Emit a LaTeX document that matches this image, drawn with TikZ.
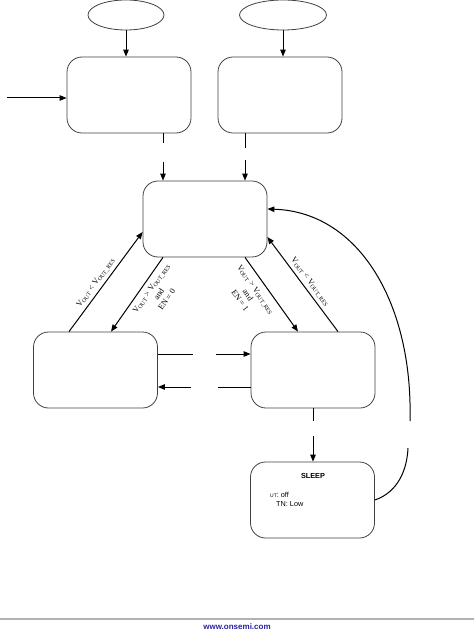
\documentclass[tikz,border=0pt]{standalone}
\usepackage{fontspec}
\setmainfont{Liberation Serif}
\newfontfamily\arialf{Liberation Sans}
\usetikzlibrary{arrows.meta,shapes.geometric}
\definecolor{onblue}{RGB}{35,35,165}
\newcommand\Vsub[1]{V\textsubscript{#1}}
\begin{document}
\begin{tikzpicture}[x=1pt,y=-1pt,
  box/.style={draw=black!75,line width=0.8pt,rounded corners=15pt,minimum width=124pt,minimum height=76pt,inner sep=0pt},
  oval/.style={draw=black!75,line width=0.8pt,ellipse,inner sep=0pt,minimum height=30pt},
  conn/.style={line width=1pt},
  arr/.style={conn,-{Triangle[length=7pt,width=5.5pt]}},
  lbl/.style={font=\fontsize{8.2}{9.6}\selectfont,align=center,inner sep=0pt},
  sans/.style={font=\arialf\fontsize{7.3}{8}\selectfont,inner sep=0pt}]
\useasboundingbox (0,0) rectangle (474,631);
% nodes
\node[oval,minimum width=76pt] (e1) at (126,15) {};
\node[oval,minimum width=87pt] (e2) at (283,15) {};
\node[box] (A) at (129,95) {};
\node[box] (B) at (280,95) {};
\node[box] (C) at (205,219) {};
\node[box] (D) at (95.5,370) {};
\node[box] (E) at (313,370) {};
\node[box] (F) at (312.5,500) {};
% top arrows
\draw[arr] (e1.south) -- (e1.south |- A.north);
\draw[arr] (e2.south) -- (e2.south |- B.north);
\coordinate (in) at (7,98);
\draw[arr] (in) -- (in -| A.west);
% A,B to C (broken)
\coordinate (a1) at (163,143);
\coordinate (a2) at (163,162);
\draw[conn] (a1 |- A.south) -- (a1);
\draw[arr] (a2) -- (a2 |- C.north);
\coordinate (b1) at (245,148);
\coordinate (b2) at (245,160);
\draw[conn] (b1 |- B.south) -- (b1);
\draw[arr] (b2) -- (b2 |- C.north);
% diagonals
\draw[arr] (69,0 |- D.north) -- (C.west |- 0,232);
\draw[arr] (163,0 |- C.south) -- (111,0 |- D.north);
\draw[arr] (245,0 |- C.south) -- (298,0 |- E.north);
\draw[arr] (338,0 |- E.north) -- (C.east |- 0,237);
% horizontals (broken)
\coordinate (h1) at (193,354);
\coordinate (h2) at (216,354);
\draw[conn] (D.east |- h1) -- (h1);
\draw[arr] (h2) -- (h2 -| E.west);
\coordinate (h3) at (218,387);
\coordinate (h4) at (191,387);
\draw[conn] (E.west |- h3) -- (h3);
\draw[arr] (h4) -- (h4 -| D.east);
% E to sleep (broken)
\coordinate (v1) at (313,421);
\coordinate (v2) at (313,436);
\draw[conn] (v1 |- E.south) -- (v1);
\draw[arr] (v2) -- (v2 |- F.north);
% return curve (broken)
\coordinate (c1) at (408,448);
\coordinate (c2) at (410,421);
\draw[conn] (F.east |- 0,500) .. controls (398,492) and (407,470) .. (c1);
\draw[arr] (c2) .. controls (413,305) and (360,212) .. (C.east |- 0,209);
% labels
\node[lbl,rotate=54] (l1) at (96,283) {\Vsub{OUT} < \Vsub{OUT\_RES}};
\node[lbl,rotate=55] (l2) at (159,294) {\Vsub{OUT} > \Vsub{OUT\_RES}\\and\\EN = 0};
\node[lbl,rotate=-55] (l3) at (248,295) {\Vsub{OUT} > \Vsub{OUT\_RES}\\and\\EN = 1};
\node[lbl,rotate=-53] (l4) at (310,282) {\Vsub{OUT} < \Vsub{OUT\_RES}};
% sleep text
\node[sans,font=\arialf\bfseries\fontsize{7.3}{8}\selectfont] (sl) at (313,476) {SLEEP};
\node[sans,anchor=base west] (ut) at (270,497) {{\fontsize{5}{5}\selectfont UT}: off};
\node[sans,anchor=base west] (tn) at (276,506) {TN: Low};
% footer
\draw[black!30,line width=1.5pt] (0,619) -- (474,619);
\node[font=\arialf\bfseries\fontsize{8}{9}\selectfont,text=onblue,inner sep=0pt] (url) at (237,627) {www.onsemi.com};
\end{tikzpicture}
\end{document}
